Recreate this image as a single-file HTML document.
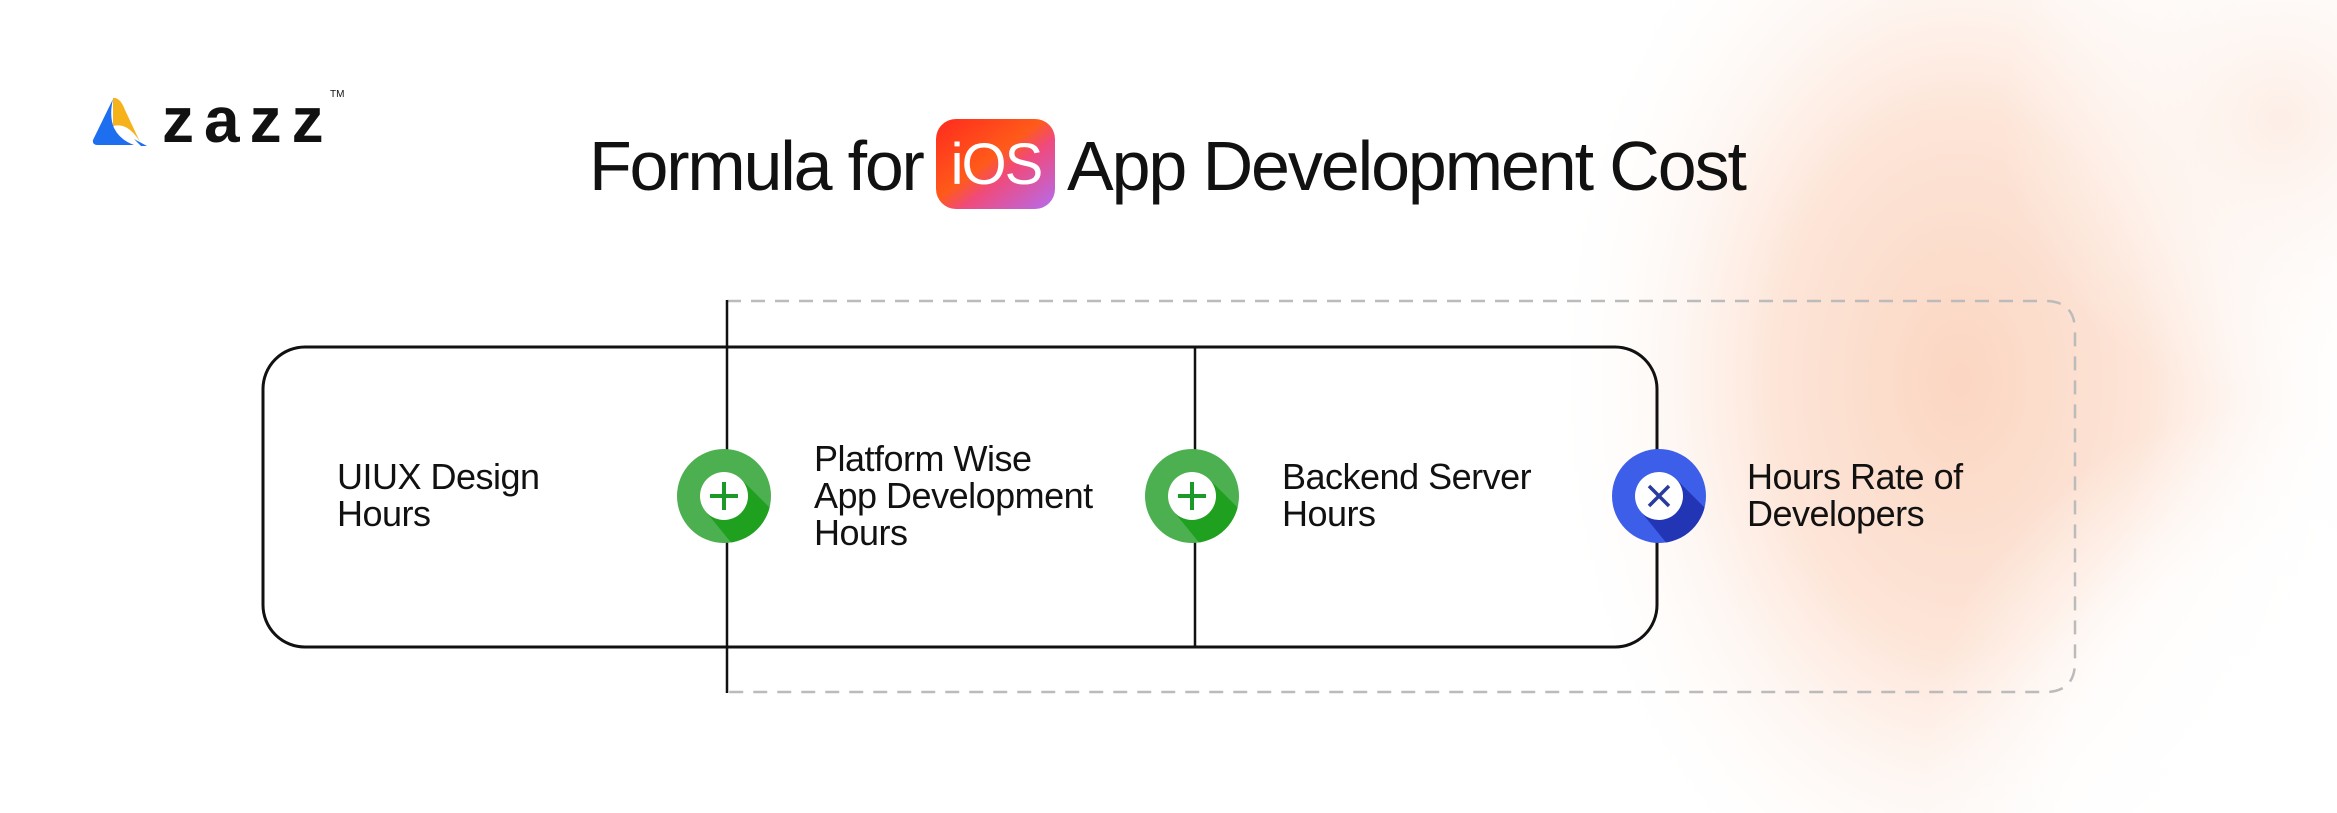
<!DOCTYPE html>
<html><head><meta charset="utf-8"><style>
html,body{margin:0;padding:0}
body{width:2337px;height:813px;overflow:hidden;position:relative;background:#fff;font-family:"Liberation Sans",Arial,sans-serif;}
.bg{position:absolute;inset:0;}
.t{position:absolute;color:#111;font-size:36px;line-height:37px;letter-spacing:-0.5px;}
</style></head><body>
<svg class="bg" width="2337" height="813" viewBox="0 0 2337 813">
<defs>
<radialGradient id="p1" cx="1960" cy="380" r="520" gradientUnits="userSpaceOnUse" gradientTransform="translate(1960 380) scale(0.8 1.15) translate(-1960 -380)">
<stop offset="0" stop-color="#fbd6c2"/><stop offset="0.45" stop-color="#fde5d8"/><stop offset="1" stop-color="#ffffff" stop-opacity="0"/></radialGradient>
<radialGradient id="w1" cx="2300" cy="780" r="380" gradientUnits="userSpaceOnUse">
<stop offset="0" stop-color="#fff"/><stop offset="0.6" stop-color="#fff" stop-opacity="0.8"/><stop offset="1" stop-color="#fff" stop-opacity="0"/></radialGradient>
<radialGradient id="p2" cx="2280" cy="120" r="280" gradientUnits="userSpaceOnUse">
<stop offset="0" stop-color="#fdeee6"/><stop offset="1" stop-color="#fff" stop-opacity="0"/></radialGradient>
<linearGradient id="ios" x1="0" y1="0" x2="1" y2="1">
<stop offset="0" stop-color="#ff2a1e"/><stop offset="0.45" stop-color="#ff5a1a"/><stop offset="0.6" stop-color="#f04a7a"/><stop offset="1" stop-color="#b36cf0"/></linearGradient>
<clipPath id="c1"><circle cx="724" cy="496" r="47"/></clipPath>
<clipPath id="c2"><circle cx="1192" cy="496" r="47"/></clipPath>
<clipPath id="c3"><circle cx="1659" cy="496" r="47"/></clipPath>
</defs>
<rect width="2337" height="813" fill="url(#p1)"/>
<rect width="2337" height="813" fill="url(#p2)"/>
<rect width="2337" height="813" fill="url(#w1)"/>
<path d="M727 301 H2045 Q2075 301 2075 331 V662 Q2075 692 2045 692 H727" fill="none" stroke="#bbb" stroke-width="2.5" stroke-dasharray="14 10"/>
<line x1="727" y1="300" x2="727" y2="693" stroke="#111" stroke-width="2.5"/>
<rect x="263" y="347" width="1394" height="300" rx="42" fill="none" stroke="#111" stroke-width="3"/>
<line x1="1195" y1="347" x2="1195" y2="647" stroke="#111" stroke-width="2.5"/>
<g>
<circle cx="724" cy="496" r="47" fill="#4caf50"/>
<g clip-path="url(#c1)"><polygon points="741,479 800,538 760,578 707,513" fill="#1fa01f"/></g>
<circle cx="724" cy="496" r="24" fill="#fff"/>
<path d="M724 482V510M710 496H738" stroke="#1b9a2a" stroke-width="4"/>
</g>
<g>
<circle cx="1192" cy="496" r="47" fill="#4caf50"/>
<g clip-path="url(#c2)"><polygon points="1209,479 1268,538 1228,578 1175,513" fill="#1fa01f"/></g>
<circle cx="1192" cy="496" r="24" fill="#fff"/>
<path d="M1192 482V510M1178 496H1206" stroke="#1b9a2a" stroke-width="4"/>
</g>
<g>
<circle cx="1659" cy="496" r="47" fill="#3d5ee8"/>
<g clip-path="url(#c3)"><polygon points="1676,479 1735,538 1695,578 1642,513" fill="#2236b5"/></g>
<circle cx="1659" cy="496" r="24" fill="#fff"/>
<path d="M1649 486L1669 506M1669 486L1649 506" stroke="#2a3a9e" stroke-width="3.5"/>
</g>
<!-- logo -->
<path d="M113 98 Q120 97 125 110 L140 142 Q128 122 113 126 Z" fill="#f6b21b"/>
<path d="M113 99 L93 140 Q92 145 98 145 H134 Q120 140 114 128 Q109 116 113 99Z" fill="#1e6ef0"/>
<path d="M134 139 L141 146 H147 Z" fill="#1e6ef0"/>
<text x="162" y="142" font-family="Liberation Sans, Arial, sans-serif" font-weight="bold" font-size="64" letter-spacing="10" fill="#111">zazz</text>
<text x="330" y="97" font-family="Liberation Sans, Arial, sans-serif" font-size="10" fill="#111">TM</text>
<rect x="936" y="119" width="119" height="90" rx="20" fill="url(#ios)"/>
<text x="996" y="184" text-anchor="middle" font-family="Liberation Sans, Arial, sans-serif" font-size="58" letter-spacing="-2" fill="#fff">iOS</text>
<text x="589" y="190" font-family="Liberation Sans, Arial, sans-serif" font-size="70" letter-spacing="-2.2" fill="#111">Formula for</text>
<text x="1067" y="190" font-family="Liberation Sans, Arial, sans-serif" font-size="70" letter-spacing="-2.1" fill="#111">App Development Cost</text>
</svg>
<div class="t" style="left:337px;top:458px;">UIUX Design<br>Hours</div>
<div class="t" style="left:814px;top:440px;">Platform Wise<br>App Development<br>Hours</div>
<div class="t" style="left:1282px;top:458px;">Backend Server<br>Hours</div>
<div class="t" style="left:1747px;top:458px;">Hours Rate of<br>Developers</div>
</body></html>
